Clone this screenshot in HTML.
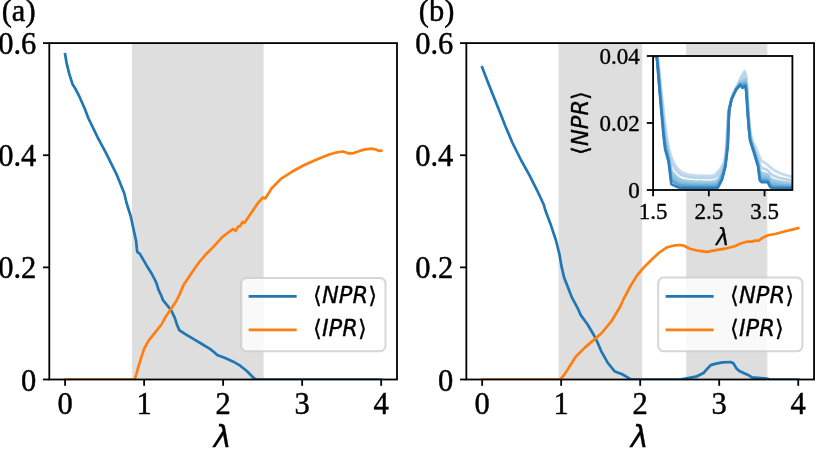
<!DOCTYPE html>
<html><head><meta charset="utf-8"><style>
html,body{margin:0;padding:0;background:#fff;}
svg{display:block;}
.tk{font-family:'Liberation Serif', serif;font-size:30.5px;fill:#000;stroke:#000;stroke-width:0.45px;}
.tki{font-family:'Liberation Serif', serif;font-size:23.0px;fill:#000;stroke:#000;stroke-width:0.35px;}
.lam{font-family:'DejaVu Sans', sans-serif;font-style:italic;font-size:30px;fill:#000;stroke:#000;stroke-width:0.3px;}
.lami{font-family:'DejaVu Sans', sans-serif;font-style:italic;font-size:22.5px;fill:#000;stroke:#000;stroke-width:0.25px;}
.lg{font-family:'DejaVu Sans', sans-serif;font-size:22.6px;fill:#000;stroke:#000;stroke-width:0.3px;}
.lgi{font-family:'DejaVu Sans', sans-serif;font-size:22.6px;fill:#000;stroke:#000;stroke-width:0.3px;}
</style></head><body>
<svg width="825" height="457" viewBox="0 0 825 457">
<rect width="825" height="457" fill="#fff"/>
<clipPath id="clipa"><rect x="49.3" y="43.1" width="347.7" height="336.4"/></clipPath>
<rect x="132.0" y="43.1" width="131.60000000000002" height="336.4" fill="#dedede"/>
<polyline points="65.1,54.3 66.6,63.1 69.2,73.6 72.5,84.1 75.7,89.3 79.7,97.2 84.9,109 88.5,118.5 97.5,137.2 106.3,153.6 116.1,173.3 119.1,180.6 124.4,193.8 126.4,202.5 130.8,216.5 133.4,228.8 136.1,241 136.9,249 137.3,252 139.9,253.9 146.4,265.2 151.9,274 156.3,282.7 158.5,289.8 161.3,295.8 163,300.1 170.9,309.8 174.4,316.8 177,324.7 179.3,330.1 184.5,333.6 195,339.8 202.7,344.5 210.3,349.1 214.2,352.2 217.2,354.9 225.7,358.3 233.3,361.7 240.2,365.7 247.1,371.3 253.2,377.5 256,379.5 381.2,379.5" fill="none" stroke="#1f77b4" stroke-width="2.7" stroke-linejoin="round" stroke-linecap="square" clip-path="url(#clipa)"/>
<polyline points="65.1,379.5 134.6,379.5 136.4,373.9 138.1,367.8 141.6,356.4 144.3,348.5 148.6,340.6 154.8,332.8 161.8,324 165.3,317.2 170.5,309.8 175.7,302 179.7,294.1 183.6,284.9 188.9,277 194.1,269.2 199.3,262 205,255.3 212.9,247.4 222.5,236.9 233,229 235.6,230.8 238.3,226.4 240,226.4 242.6,222 244.4,222.9 250.5,214.1 257.5,203.6 262.8,197.5 265.4,198.4 271.5,188.5 280.9,178.9 291.9,171.8 302.8,165.7 313.8,160.8 324.7,156.2 330,154.3 336.3,152.5 342.4,151.5 345.5,152.2 348.6,153.4 352.4,153.4 357.8,151.5 363.9,149.6 371.6,148.7 376.1,149.5 379.2,151 381.2,150.6" fill="none" stroke="#ff7f0e" stroke-width="2.7" stroke-linejoin="round" stroke-linecap="square" clip-path="url(#clipa)"/>
<rect x="49.3" y="43.1" width="347.7" height="336.4" fill="none" stroke="#000" stroke-width="1.8" stroke-linejoin="miter"/>
<line x1="65.10" y1="379.5" x2="65.10" y2="385.8" stroke="#000" stroke-width="1.8"/>
<text x="65.10" y="414.1" text-anchor="middle" class="tk">0</text>
<line x1="144.12" y1="379.5" x2="144.12" y2="385.8" stroke="#000" stroke-width="1.8"/>
<text x="144.12" y="414.1" text-anchor="middle" class="tk">1</text>
<line x1="223.14" y1="379.5" x2="223.14" y2="385.8" stroke="#000" stroke-width="1.8"/>
<text x="223.14" y="414.1" text-anchor="middle" class="tk">2</text>
<line x1="302.16" y1="379.5" x2="302.16" y2="385.8" stroke="#000" stroke-width="1.8"/>
<text x="302.16" y="414.1" text-anchor="middle" class="tk">3</text>
<line x1="381.18" y1="379.5" x2="381.18" y2="385.8" stroke="#000" stroke-width="1.8"/>
<text x="381.18" y="414.1" text-anchor="middle" class="tk">4</text>
<line x1="43.0" y1="379.50" x2="49.3" y2="379.50" stroke="#000" stroke-width="1.8"/>
<text x="36.30" y="390.50" text-anchor="end" class="tk">0</text>
<line x1="43.0" y1="267.37" x2="49.3" y2="267.37" stroke="#000" stroke-width="1.8"/>
<text x="36.30" y="278.37" text-anchor="end" class="tk">0.2</text>
<line x1="43.0" y1="155.23" x2="49.3" y2="155.23" stroke="#000" stroke-width="1.8"/>
<text x="36.30" y="166.23" text-anchor="end" class="tk">0.4</text>
<line x1="43.0" y1="43.10" x2="49.3" y2="43.10" stroke="#000" stroke-width="1.8"/>
<text x="36.30" y="54.10" text-anchor="end" class="tk">0.6</text>
<text x="222.55" y="446.5" text-anchor="middle" class="lam">λ</text>
<text x="1.6999999999999957" y="20.6" class="tk">(a)</text>
<rect x="241.2" y="277.9" width="144.3" height="73.30000000000001" rx="5.5" ry="5.5" fill="#fff" fill-opacity="0.8" stroke="#cccccc" stroke-opacity="0.8" stroke-width="2"/>
<line x1="250.0" y1="296.3" x2="295.3" y2="296.3" stroke="#1f77b4" stroke-width="2.7" stroke-linecap="square"/>
<line x1="250.0" y1="329.8" x2="295.3" y2="329.8" stroke="#ff7f0e" stroke-width="2.7" stroke-linecap="square"/>
<text x="313.1" y="303" class="lg">⟨<tspan font-style="italic">NPR</tspan>⟩</text>
<text x="313.1" y="336.3" class="lg">⟨<tspan font-style="italic">IPR</tspan>⟩</text>
<clipPath id="clipb"><rect x="466.35" y="43.1" width="347.69999999999993" height="336.4"/></clipPath>
<rect x="558.5" y="43.1" width="83.70000000000005" height="336.4" fill="#dedede"/>
<rect x="686.2" y="43.1" width="81.09999999999991" height="336.4" fill="#dedede"/>
<polyline points="482.15,67.2 487.5,81.3 494.5,98.8 501.5,116.3 505.3,125.9 512.3,142.5 521,160 529.8,175.8 536.8,189.8 543.8,204.7 545.5,210.8 550.8,224.8 556,240.5 559.5,254.5 561.4,265.9 564,277.3 568.4,288.6 571.9,297.4 578,308.8 580.6,314.9 587.6,324.5 593.8,335 597.1,341.5 601.7,352.2 607.8,362.9 614.7,371.3 618.6,372.9 621.8,374 627.1,377.2 631,379.5 680,379.5 696,376.7 704,372.7 707.3,368.7 710.7,365.1 716,363.6 722.7,362.4 730.7,362 733.3,363.3 736.7,368.7 739.3,370.9 748,374.9 752,377.3 766.7,378.6 770,379.5 798.2,379.5" fill="none" stroke="#1f77b4" stroke-width="2.7" stroke-linejoin="round" stroke-linecap="square" clip-path="url(#clipb)"/>
<polyline points="482.15,379.5 560.3,379.5 563.4,375.9 568,369 575.7,356.8 584.8,347.6 595.6,338.4 601.7,333 611.7,320.8 620,307 623.3,299.7 630.5,286 637.1,275.4 643.6,267.6 651.5,259.7 659.4,252.5 667.3,247.2 675.1,245.3 680,245 683.9,245.7 690,248.7 697.7,250.7 706.9,251.8 717.3,249.9 726.7,248.3 734.7,246.3 740,243.7 746.7,241.7 752,241.7 754.7,240.6 758.7,240.6 762.7,237.7 768,235.3 776,233.7 785.3,231.3 793.3,229.4 798.2,228.1" fill="none" stroke="#ff7f0e" stroke-width="2.7" stroke-linejoin="round" stroke-linecap="square" clip-path="url(#clipb)"/>
<rect x="466.35" y="43.1" width="347.69999999999993" height="336.4" fill="none" stroke="#000" stroke-width="1.8" stroke-linejoin="miter"/>
<line x1="482.15" y1="379.5" x2="482.15" y2="385.8" stroke="#000" stroke-width="1.8"/>
<text x="482.15" y="414.1" text-anchor="middle" class="tk">0</text>
<line x1="561.17" y1="379.5" x2="561.17" y2="385.8" stroke="#000" stroke-width="1.8"/>
<text x="561.17" y="414.1" text-anchor="middle" class="tk">1</text>
<line x1="640.19" y1="379.5" x2="640.19" y2="385.8" stroke="#000" stroke-width="1.8"/>
<text x="640.19" y="414.1" text-anchor="middle" class="tk">2</text>
<line x1="719.21" y1="379.5" x2="719.21" y2="385.8" stroke="#000" stroke-width="1.8"/>
<text x="719.21" y="414.1" text-anchor="middle" class="tk">3</text>
<line x1="798.23" y1="379.5" x2="798.23" y2="385.8" stroke="#000" stroke-width="1.8"/>
<text x="798.23" y="414.1" text-anchor="middle" class="tk">4</text>
<line x1="460.05" y1="379.50" x2="466.35" y2="379.50" stroke="#000" stroke-width="1.8"/>
<text x="453.35" y="390.50" text-anchor="end" class="tk">0</text>
<line x1="460.05" y1="267.37" x2="466.35" y2="267.37" stroke="#000" stroke-width="1.8"/>
<text x="453.35" y="278.37" text-anchor="end" class="tk">0.2</text>
<line x1="460.05" y1="155.23" x2="466.35" y2="155.23" stroke="#000" stroke-width="1.8"/>
<text x="453.35" y="166.23" text-anchor="end" class="tk">0.4</text>
<line x1="460.05" y1="43.10" x2="466.35" y2="43.10" stroke="#000" stroke-width="1.8"/>
<text x="453.35" y="54.10" text-anchor="end" class="tk">0.6</text>
<text x="639.60" y="446.5" text-anchor="middle" class="lam">λ</text>
<text x="418.75" y="20.6" class="tk">(b)</text>
<rect x="658.2" y="277.6" width="144.19999999999993" height="73.69999999999999" rx="5.5" ry="5.5" fill="#fff" fill-opacity="0.8" stroke="#cccccc" stroke-opacity="0.8" stroke-width="2"/>
<line x1="667.0" y1="296.3" x2="712.3000000000001" y2="296.3" stroke="#1f77b4" stroke-width="2.7" stroke-linecap="square"/>
<line x1="667.0" y1="329.8" x2="712.3000000000001" y2="329.8" stroke="#ff7f0e" stroke-width="2.7" stroke-linecap="square"/>
<text x="730.1" y="303" class="lg">⟨<tspan font-style="italic">NPR</tspan>⟩</text>
<text x="730.1" y="336.3" class="lg">⟨<tspan font-style="italic">IPR</tspan>⟩</text>
<clipPath id="clipi"><rect x="653.1" y="56.0" width="139.29999999999995" height="134.0"/></clipPath>
<rect x="652.1" y="54.8" width="141.29999999999995" height="136.4" fill="#fff"/>
<polyline points="657.8,56.5 661.8,95.5 666.5,135.5 669.2,149.5 671.5,157.5 674.7,164.4 678.0,169.0 682.1,172.5 688.0,174.5 695.0,175.4 705.0,175.8 711.5,175.8 714.5,175.0 716.4,173.5 720.0,169.5 723.0,164.5 724.6,160.5 726.0,150.5 726.8,140.5 727.3,125.5 728.3,110.5 731.0,101.0 733.4,93.1 737.4,85.2 740.5,78.0 744.6,70.8 746.3,76.5 747.2,85.5 748.3,110.5 749.5,125.5 751.0,135.5 752.5,140.5 756.0,148.5 761.5,161.0 767.2,164.4 772.3,169.0 779.2,173.0 792.4,177.1" fill="none" stroke="#c6dbef" stroke-width="2.7" stroke-linejoin="round" stroke-linecap="square" clip-path="url(#clipi)"/>
<polyline points="653.00,56.50 653.25,56.50 653.50,56.50 653.75,56.50 654.00,56.50 654.25,56.50 654.50,56.50 654.75,56.50 655.00,56.50 655.25,56.50 655.50,56.50 655.75,56.50 656.00,56.50 656.25,56.50 656.50,56.50 656.75,56.50 657.00,56.94 657.25,57.49 657.50,58.04 657.75,58.58 658.00,60.73 658.25,63.28 658.50,65.83 658.75,68.37 659.00,70.92 659.25,73.47 659.50,76.01 659.75,78.56 660.00,81.11 660.25,83.62 660.50,86.14 660.75,88.65 661.00,91.16 661.25,93.67 661.50,96.19 661.75,98.70 662.00,101.01 662.25,103.27 662.50,105.53 662.75,107.79 663.00,110.05 663.25,112.30 663.50,114.56 663.75,116.68 664.00,118.79 664.25,120.91 664.50,123.02 664.75,125.14 665.00,127.26 665.25,129.33 665.50,131.24 665.75,133.14 666.00,135.05 666.25,136.95 666.50,138.86 666.75,140.08 667.00,141.31 667.25,142.53 667.50,143.76 667.75,144.98 668.00,146.21 668.25,147.43 668.50,148.66 668.75,150.01 669.00,151.44 669.25,152.81 669.50,153.90 669.75,154.98 670.00,156.07 670.25,157.15 670.50,158.24 670.75,159.33 671.00,160.41 671.25,161.50 671.50,162.31 671.75,162.77 672.00,163.24 672.25,163.70 672.50,164.16 672.75,164.63 673.00,165.09 673.25,165.56 673.50,166.02 673.75,166.49 674.00,166.95 674.25,167.42 674.50,167.88 674.75,168.31 675.00,168.62 675.25,168.93 675.50,169.23 675.75,169.54 676.00,169.84 676.25,170.14 676.50,170.44 676.75,170.75 677.00,171.05 677.25,171.35 677.50,171.65 677.75,171.96 678.00,172.26 678.25,172.45 678.50,172.64 678.75,172.84 679.00,173.03 679.25,173.22 679.50,173.41 679.75,173.60 680.00,173.80 680.25,173.98 680.50,174.15 680.75,174.33 681.00,174.50 681.25,174.68 681.50,174.85 681.75,175.03 682.00,175.20 682.25,175.32 682.50,175.39 682.75,175.46 683.00,175.53 683.25,175.59 683.50,175.66 683.75,175.73 684.00,175.80 684.25,175.87 684.50,175.94 684.75,176.01 685.00,176.08 685.25,176.15 685.50,176.22 685.75,176.29 686.00,176.36 686.25,176.43 686.50,176.50 686.75,176.57 687.00,176.64 687.25,176.71 687.50,176.78 687.75,176.85 688.00,176.92 688.25,176.95 688.50,176.97 688.75,177.00 689.00,177.03 689.25,177.05 689.50,177.08 689.75,177.11 690.00,177.13 690.25,177.16 690.50,177.19 690.75,177.21 691.00,177.24 691.25,177.27 691.50,177.29 691.75,177.32 692.00,177.35 692.25,177.37 692.50,177.40 692.75,177.43 693.00,177.45 693.25,177.48 693.50,177.51 693.75,177.53 694.00,177.56 694.25,177.59 694.50,177.61 694.75,177.64 695.00,177.67 695.25,177.67 695.50,177.68 695.75,177.69 696.00,177.70 696.25,177.71 696.50,177.72 696.75,177.72 697.00,177.73 697.25,177.74 697.50,177.75 697.75,177.76 698.00,177.77 698.25,177.78 698.50,177.78 698.75,177.79 699.00,177.80 699.25,177.81 699.50,177.82 699.75,177.83 700.00,177.83 700.25,177.84 700.50,177.85 700.75,177.86 701.00,177.87 701.25,177.88 701.50,177.89 701.75,177.89 702.00,177.90 702.25,177.91 702.50,177.92 702.75,177.93 703.00,177.94 703.25,177.94 703.50,177.95 703.75,177.96 704.00,177.97 704.25,177.98 704.50,177.99 704.75,178.00 705.00,178.00 705.25,178.00 705.50,178.00 705.75,178.00 706.00,178.00 706.25,178.00 706.50,178.01 706.75,178.01 707.00,178.01 707.25,178.01 707.50,178.01 707.75,178.01 708.00,178.01 708.25,178.01 708.50,178.01 708.75,178.01 709.00,178.01 709.25,178.01 709.50,178.01 709.75,178.01 710.00,178.01 710.25,178.01 710.50,178.01 710.75,178.01 711.00,178.01 711.25,178.01 711.50,178.01 711.75,177.96 712.00,177.90 712.25,177.85 712.50,177.79 712.75,177.74 713.00,177.68 713.25,177.63 713.50,177.58 713.75,177.52 714.00,177.47 714.25,177.41 714.50,177.36 714.75,177.20 715.00,177.03 715.25,176.86 715.50,176.69 715.75,176.52 716.00,176.35 716.25,176.18 716.50,175.98 716.75,175.75 717.00,175.51 717.25,175.27 717.50,175.04 717.75,174.80 718.00,174.56 718.25,174.25 718.50,173.93 718.75,173.62 719.00,173.30 719.25,172.98 719.50,172.67 719.75,172.35 720.00,172.04 720.25,171.61 720.50,171.18 720.75,170.75 721.00,170.32 721.25,169.89 721.50,169.46 721.75,169.03 722.00,168.60 722.25,168.12 722.50,167.60 722.75,167.08 723.00,166.56 723.25,165.87 723.50,165.17 723.75,164.48 724.00,163.79 724.25,163.10 724.50,162.41 724.75,161.15 725.00,159.50 725.25,157.86 725.50,156.14 725.75,154.29 726.00,152.44 726.25,149.50 726.50,146.55 726.75,143.60 727.00,137.79 727.25,131.25 727.50,127.18 727.75,123.72 728.00,119.75 728.25,115.00 728.50,112.60 728.75,110.80 729.00,109.00 729.25,107.71 729.50,106.77 729.75,105.82 730.00,104.88 730.25,103.93 730.50,102.98 730.75,102.04 731.00,101.09 731.25,100.19 731.50,99.34 731.75,98.57 732.00,97.80 732.25,97.03 732.50,96.26 732.75,95.49 733.00,94.73 733.25,93.96 733.50,93.30 733.75,92.80 734.00,92.30 734.25,91.81 734.50,91.31 734.75,90.82 735.00,90.32 735.25,89.82 735.50,89.33 735.75,88.83 736.00,88.33 736.25,87.84 736.50,87.34 736.75,86.89 737.00,86.44 737.25,85.99 737.50,85.51 737.75,84.99 738.00,84.47 738.25,83.95 738.50,83.43 738.75,82.91 739.00,82.39 739.25,81.87 739.50,81.34 739.75,80.82 740.00,80.30 740.25,79.78 740.50,79.26 740.75,78.96 741.00,78.67 741.25,78.37 741.50,78.07 741.75,77.78 742.00,77.48 742.25,77.18 742.50,76.88 742.75,76.49 743.00,76.10 743.25,75.71 743.50,75.32 743.75,74.93 744.00,74.54 744.25,74.15 744.50,73.76 744.75,74.00 745.00,74.66 745.25,75.32 745.50,75.97 745.75,77.04 746.00,78.10 746.25,79.17 746.50,81.58 746.75,84.32 747.00,87.06 747.25,90.33 747.50,95.68 747.75,100.92 748.00,106.15 748.25,111.39 748.50,114.94 748.75,118.08 749.00,121.22 749.25,124.20 749.50,127.19 749.75,128.98 750.00,130.76 750.25,132.42 750.50,133.96 750.75,135.49 751.00,137.02 751.25,137.87 751.50,138.72 751.75,139.57 752.00,140.41 752.25,141.26 752.50,142.11 752.75,142.76 753.00,143.40 753.25,144.05 753.50,144.70 753.75,145.34 754.00,146.00 754.25,146.66 754.50,147.33 754.75,148.01 755.00,148.68 755.25,149.36 755.50,150.04 755.75,150.72 756.00,151.41 756.25,152.09 756.50,152.78 756.75,153.46 757.00,154.15 757.25,154.84 757.50,155.54 757.75,156.23 758.00,156.93 758.25,157.84 758.50,158.89 758.75,159.95 759.00,161.02 759.25,162.10 759.50,163.19 759.75,164.29 760.00,164.95 760.25,165.42 760.50,165.89 760.75,166.35 761.00,166.82 761.25,167.29 761.50,167.75 761.75,167.85 762.00,167.95 762.25,168.06 762.50,168.16 762.75,168.26 763.00,168.36 763.25,168.46 763.50,168.56 763.75,168.66 764.00,168.77 764.25,168.87 764.50,168.97 764.75,169.07 765.00,169.17 765.25,169.27 765.50,169.37 765.75,169.48 766.00,169.58 766.25,169.68 766.50,169.78 766.75,169.88 767.00,169.98 767.25,170.09 767.50,170.25 767.75,170.40 768.00,170.69 768.25,171.01 768.50,171.33 768.75,171.65 769.00,171.97 769.25,172.29 769.50,172.61 769.75,172.93 770.00,173.25 770.25,173.50 770.50,173.69 770.75,173.89 771.00,174.09 771.25,174.28 771.50,174.48 771.75,174.68 772.00,174.88 772.25,175.07 772.50,175.19 772.75,175.29 773.00,175.39 773.25,175.49 773.50,175.59 773.75,175.68 774.00,175.78 774.25,175.88 774.50,175.98 774.75,176.08 775.00,176.18 775.25,176.27 775.50,176.37 775.75,176.47 776.00,176.57 776.25,176.67 776.50,176.77 776.75,176.87 777.00,176.96 777.25,177.06 777.50,177.16 777.75,177.26 778.00,177.36 778.25,177.46 778.50,177.56 778.75,177.65 779.00,177.75 779.25,177.84 779.50,177.90 779.75,177.95 780.00,178.00 780.25,178.05 780.50,178.11 780.75,178.16 781.00,178.21 781.25,178.26 781.50,178.32 781.75,178.37 782.00,178.42 782.25,178.48 782.50,178.53 782.75,178.58 783.00,178.63 783.25,178.69 783.50,178.74 783.75,178.79 784.00,178.85 784.25,178.90 784.50,178.95 784.75,179.00 785.00,179.06 785.25,179.11 785.50,179.16 785.75,179.22 786.00,179.27 786.25,179.32 786.50,179.37 786.75,179.43 787.00,179.48 787.25,179.53 787.50,179.59 787.75,179.64 788.00,179.69 788.25,179.74 788.50,179.80 788.75,179.85 789.00,179.90 789.25,179.95 789.50,180.01 789.75,180.06 790.00,180.11 790.25,180.17 790.50,180.22 790.75,180.27 791.00,180.32 791.25,180.38 791.50,180.43 791.75,180.48 792.00,180.54 792.25,180.59 792.50,180.62 792.75,180.62 793.00,180.62" fill="none" stroke="#b7d4ea" stroke-width="2.7" stroke-linejoin="round" stroke-linecap="square" clip-path="url(#clipi)"/>
<polyline points="653.00,56.50 653.25,56.50 653.50,56.50 653.75,56.50 654.00,56.50 654.25,56.50 654.50,56.50 654.75,56.50 655.00,56.50 655.25,56.50 655.50,56.50 655.75,56.50 656.00,56.50 656.25,56.50 656.50,56.50 656.75,56.50 657.00,57.69 657.25,59.19 657.50,60.68 657.75,62.17 658.00,64.66 658.25,67.40 658.50,70.13 658.75,72.87 659.00,75.61 659.25,78.34 659.50,81.08 659.75,83.81 660.00,86.55 660.25,89.19 660.50,91.84 660.75,94.48 661.00,97.12 661.25,99.77 661.50,102.41 661.75,105.05 662.00,107.57 662.25,110.05 662.50,112.54 662.75,115.02 663.00,117.51 663.25,119.99 663.50,122.48 663.75,124.57 664.00,126.67 664.25,128.76 664.50,130.85 664.75,132.95 665.00,135.04 665.25,137.02 665.50,138.55 665.75,140.07 666.00,141.60 666.25,143.12 666.50,144.65 666.75,145.75 667.00,146.85 667.25,147.95 667.50,149.05 667.75,150.15 668.00,151.25 668.25,152.35 668.50,153.45 668.75,154.90 669.00,156.58 669.25,158.21 669.50,159.67 669.75,161.13 670.00,162.59 670.25,164.05 670.50,165.51 670.75,166.97 671.00,168.43 671.25,169.89 671.50,170.58 671.75,170.92 672.00,171.26 672.25,171.59 672.50,171.93 672.75,172.26 673.00,172.60 673.25,172.94 673.50,173.27 673.75,173.61 674.00,173.94 674.25,174.28 674.50,174.62 674.75,174.93 675.00,175.17 675.25,175.41 675.50,175.64 675.75,175.86 676.00,176.09 676.25,176.31 676.50,176.53 676.75,176.76 677.00,176.98 677.25,177.20 677.50,177.43 677.75,177.65 678.00,177.88 678.25,178.03 678.50,178.18 678.75,178.34 679.00,178.49 679.25,178.65 679.50,178.80 679.75,178.96 680.00,179.11 680.25,179.24 680.50,179.35 680.75,179.46 681.00,179.57 681.25,179.68 681.50,179.79 681.75,179.90 682.00,180.01 682.25,180.08 682.50,180.12 682.75,180.17 683.00,180.21 683.25,180.25 683.50,180.30 683.75,180.34 684.00,180.39 684.25,180.43 684.50,180.47 684.75,180.52 685.00,180.56 685.25,180.61 685.50,180.65 685.75,180.69 686.00,180.74 686.25,180.78 686.50,180.82 686.75,180.87 687.00,180.91 687.25,180.96 687.50,181.00 687.75,181.04 688.00,181.09 688.25,181.11 688.50,181.12 688.75,181.14 689.00,181.16 689.25,181.17 689.50,181.19 689.75,181.21 690.00,181.22 690.25,181.24 690.50,181.26 690.75,181.28 691.00,181.29 691.25,181.31 691.50,181.33 691.75,181.34 692.00,181.36 692.25,181.38 692.50,181.40 692.75,181.41 693.00,181.43 693.25,181.45 693.50,181.46 693.75,181.48 694.00,181.50 694.25,181.52 694.50,181.53 694.75,181.55 695.00,181.57 695.25,181.57 695.50,181.58 695.75,181.58 696.00,181.59 696.25,181.60 696.50,181.60 696.75,181.61 697.00,181.61 697.25,181.62 697.50,181.62 697.75,181.63 698.00,181.64 698.25,181.64 698.50,181.65 698.75,181.65 699.00,181.66 699.25,181.67 699.50,181.67 699.75,181.68 700.00,181.68 700.25,181.69 700.50,181.69 700.75,181.70 701.00,181.71 701.25,181.71 701.50,181.72 701.75,181.72 702.00,181.73 702.25,181.74 702.50,181.74 702.75,181.75 703.00,181.75 703.25,181.76 703.50,181.76 703.75,181.77 704.00,181.78 704.25,181.78 704.50,181.79 704.75,181.79 705.00,181.80 705.25,181.80 705.50,181.80 705.75,181.80 706.00,181.80 706.25,181.80 706.50,181.80 706.75,181.80 707.00,181.80 707.25,181.81 707.50,181.81 707.75,181.81 708.00,181.81 708.25,181.81 708.50,181.81 708.75,181.81 709.00,181.81 709.25,181.81 709.50,181.81 709.75,181.81 710.00,181.81 710.25,181.81 710.50,181.81 710.75,181.82 711.00,181.82 711.25,181.82 711.50,181.82 711.75,181.78 712.00,181.75 712.25,181.72 712.50,181.68 712.75,181.65 713.00,181.62 713.25,181.58 713.50,181.55 713.75,181.52 714.00,181.48 714.25,181.45 714.50,181.42 714.75,181.32 715.00,181.22 715.25,181.09 715.50,180.97 715.75,180.84 716.00,180.72 716.25,180.59 716.50,180.45 716.75,180.28 717.00,180.12 717.25,179.95 717.50,179.79 717.75,179.62 718.00,179.45 718.25,179.07 718.50,178.69 718.75,178.31 719.00,177.93 719.25,177.55 719.50,177.17 719.75,176.79 720.00,176.41 720.25,175.96 720.50,175.50 720.75,175.05 721.00,174.60 721.25,174.15 721.50,173.70 721.75,173.25 722.00,172.80 722.25,172.20 722.50,171.50 722.75,170.80 723.00,170.10 723.25,169.29 723.50,168.49 723.75,167.68 724.00,166.88 724.25,166.07 724.50,165.27 724.75,164.11 725.00,162.71 725.25,161.31 725.50,159.69 725.75,157.74 726.00,155.79 726.25,153.15 726.50,150.51 726.75,147.87 727.00,143.45 727.25,138.58 727.50,135.24 727.75,132.29 728.00,127.92 728.25,121.45 728.50,117.44 728.75,114.05 729.00,110.66 729.25,108.67 729.50,107.61 729.75,106.55 730.00,105.49 730.25,104.43 730.50,103.37 730.75,102.31 731.00,101.24 731.25,100.21 731.50,99.32 731.75,98.64 732.00,97.97 732.25,97.29 732.50,96.61 732.75,95.93 733.00,95.26 733.25,94.58 733.50,93.98 733.75,93.48 734.00,92.97 734.25,92.47 734.50,91.97 734.75,91.47 735.00,90.97 735.25,90.47 735.50,89.97 735.75,89.47 736.00,88.97 736.25,88.47 736.50,87.97 736.75,87.59 737.00,87.22 737.25,86.85 737.50,86.45 737.75,86.03 738.00,85.62 738.25,85.20 738.50,84.78 738.75,84.36 739.00,83.94 739.25,83.52 739.50,83.10 739.75,82.69 740.00,82.27 740.25,81.85 740.50,81.43 740.75,81.38 741.00,81.33 741.25,81.27 741.50,81.22 741.75,81.17 742.00,81.12 742.25,81.06 742.50,81.01 742.75,80.71 743.00,80.40 743.25,80.09 743.50,79.79 743.75,79.48 744.00,79.18 744.25,78.87 744.50,78.57 744.75,78.65 745.00,79.00 745.25,79.34 745.50,79.69 745.75,81.14 746.00,82.60 746.25,84.05 746.50,86.87 746.75,90.03 747.00,93.20 747.25,96.69 747.50,101.47 747.75,105.94 748.00,110.40 748.25,114.87 748.50,118.29 748.75,121.45 749.00,124.62 749.25,127.36 749.50,130.10 749.75,132.09 750.00,134.09 750.25,135.65 750.50,136.90 750.75,138.14 751.00,139.38 751.25,140.20 751.50,141.02 751.75,141.85 752.00,142.67 752.25,143.49 752.50,144.31 752.75,145.00 753.00,145.69 753.25,146.38 753.50,147.08 753.75,147.77 754.00,148.47 754.25,149.18 754.50,149.92 754.75,150.66 755.00,151.40 755.25,152.13 755.50,152.87 755.75,153.61 756.00,154.36 756.25,155.10 756.50,155.84 756.75,156.58 757.00,157.33 757.25,158.07 757.50,158.82 757.75,159.57 758.00,160.31 758.25,161.44 758.50,162.83 758.75,164.23 759.00,165.62 759.25,167.03 759.50,168.43 759.75,169.85 760.00,170.48 760.25,170.87 760.50,171.26 760.75,171.65 761.00,172.04 761.25,172.43 761.50,172.82 761.75,172.88 762.00,172.95 762.25,173.01 762.50,173.08 762.75,173.14 763.00,173.21 763.25,173.28 763.50,173.34 763.75,173.41 764.00,173.47 764.25,173.54 764.50,173.60 764.75,173.67 765.00,173.73 765.25,173.80 765.50,173.87 765.75,173.93 766.00,174.00 766.25,174.06 766.50,174.13 766.75,174.19 767.00,174.26 767.25,174.33 767.50,174.43 767.75,174.53 768.00,174.86 768.25,175.25 768.50,175.65 768.75,176.04 769.00,176.43 769.25,176.82 769.50,177.21 769.75,177.60 770.00,177.99 770.25,178.26 770.50,178.43 770.75,178.61 771.00,178.78 771.25,178.96 771.50,179.13 771.75,179.31 772.00,179.49 772.25,179.66 772.50,179.75 772.75,179.81 773.00,179.87 773.25,179.94 773.50,180.00 773.75,180.07 774.00,180.13 774.25,180.19 774.50,180.26 774.75,180.32 775.00,180.38 775.25,180.45 775.50,180.51 775.75,180.58 776.00,180.64 776.25,180.70 776.50,180.77 776.75,180.83 777.00,180.89 777.25,180.96 777.50,181.02 777.75,181.09 778.00,181.15 778.25,181.21 778.50,181.28 778.75,181.34 779.00,181.40 779.25,181.46 779.50,181.50 779.75,181.53 780.00,181.57 780.25,181.60 780.50,181.63 780.75,181.67 781.00,181.70 781.25,181.74 781.50,181.77 781.75,181.80 782.00,181.84 782.25,181.87 782.50,181.91 782.75,181.94 783.00,181.98 783.25,182.01 783.50,182.04 783.75,182.08 784.00,182.11 784.25,182.15 784.50,182.18 784.75,182.21 785.00,182.25 785.25,182.28 785.50,182.32 785.75,182.35 786.00,182.39 786.25,182.42 786.50,182.45 786.75,182.49 787.00,182.52 787.25,182.56 787.50,182.59 787.75,182.62 788.00,182.66 788.25,182.69 788.50,182.73 788.75,182.76 789.00,182.80 789.25,182.83 789.50,182.86 789.75,182.90 790.00,182.93 790.25,182.97 790.50,183.00 790.75,183.03 791.00,183.07 791.25,183.10 791.50,183.14 791.75,183.17 792.00,183.21 792.25,183.24 792.50,183.26 792.75,183.26 793.00,183.26" fill="none" stroke="#a6cee4" stroke-width="2.7" stroke-linejoin="round" stroke-linecap="square" clip-path="url(#clipi)"/>
<polyline points="653.00,56.50 653.25,56.50 653.50,56.50 653.75,56.50 654.00,56.50 654.25,56.50 654.50,56.50 654.75,56.50 655.00,56.50 655.25,56.50 655.50,56.50 655.75,56.50 656.00,56.50 656.25,56.50 656.50,56.50 656.75,56.50 657.00,57.99 657.25,59.85 657.50,61.70 657.75,63.56 658.00,66.18 658.25,68.99 658.50,71.80 658.75,74.61 659.00,77.42 659.25,80.23 659.50,83.04 659.75,85.85 660.00,88.66 660.25,91.35 660.50,94.04 660.75,96.74 661.00,99.43 661.25,102.12 661.50,104.82 661.75,107.51 662.00,110.11 662.25,112.68 662.50,115.25 662.75,117.82 663.00,120.40 663.25,122.97 663.50,125.54 663.75,127.63 664.00,129.71 664.25,131.80 664.50,133.89 664.75,135.97 665.00,138.06 665.25,140.00 665.50,141.38 665.75,142.75 666.00,144.13 666.25,145.51 666.50,146.89 666.75,147.94 667.00,148.99 667.25,150.04 667.50,151.10 667.75,152.15 668.00,153.20 668.25,154.25 668.50,155.31 668.75,156.79 669.00,158.56 669.25,160.30 669.50,161.90 669.75,163.51 670.00,165.11 670.25,166.72 670.50,168.32 670.75,169.93 671.00,171.53 671.25,173.13 671.50,173.79 671.75,174.07 672.00,174.36 672.25,174.65 672.50,174.93 672.75,175.22 673.00,175.51 673.25,175.79 673.50,176.08 673.75,176.37 674.00,176.65 674.25,176.94 674.50,177.22 674.75,177.50 675.00,177.71 675.25,177.92 675.50,178.12 675.75,178.31 676.00,178.50 676.25,178.70 676.50,178.89 676.75,179.08 677.00,179.28 677.25,179.47 677.50,179.66 677.75,179.86 678.00,180.05 678.25,180.19 678.50,180.33 678.75,180.47 679.00,180.61 679.25,180.75 679.50,180.89 679.75,181.03 680.00,181.17 680.25,181.28 680.50,181.36 680.75,181.45 681.00,181.53 681.25,181.62 681.50,181.70 681.75,181.78 682.00,181.87 682.25,181.92 682.50,181.96 682.75,181.99 683.00,182.02 683.25,182.06 683.50,182.09 683.75,182.12 684.00,182.16 684.25,182.19 684.50,182.23 684.75,182.26 685.00,182.29 685.25,182.33 685.50,182.36 685.75,182.40 686.00,182.43 686.25,182.46 686.50,182.50 686.75,182.53 687.00,182.57 687.25,182.60 687.50,182.63 687.75,182.67 688.00,182.70 688.25,182.72 688.50,182.73 688.75,182.74 689.00,182.76 689.25,182.77 689.50,182.78 689.75,182.80 690.00,182.81 690.25,182.82 690.50,182.84 690.75,182.85 691.00,182.86 691.25,182.88 691.50,182.89 691.75,182.90 692.00,182.92 692.25,182.93 692.50,182.94 692.75,182.96 693.00,182.97 693.25,182.98 693.50,183.00 693.75,183.01 694.00,183.02 694.25,183.04 694.50,183.05 694.75,183.06 695.00,183.08 695.25,183.08 695.50,183.09 695.75,183.09 696.00,183.10 696.25,183.10 696.50,183.11 696.75,183.11 697.00,183.12 697.25,183.12 697.50,183.12 697.75,183.13 698.00,183.13 698.25,183.14 698.50,183.14 698.75,183.15 699.00,183.15 699.25,183.16 699.50,183.16 699.75,183.17 700.00,183.17 700.25,183.18 700.50,183.18 700.75,183.19 701.00,183.19 701.25,183.20 701.50,183.20 701.75,183.21 702.00,183.21 702.25,183.22 702.50,183.22 702.75,183.23 703.00,183.23 703.25,183.23 703.50,183.24 703.75,183.24 704.00,183.25 704.25,183.25 704.50,183.26 704.75,183.26 705.00,183.27 705.25,183.27 705.50,183.27 705.75,183.27 706.00,183.27 706.25,183.27 706.50,183.27 706.75,183.27 707.00,183.28 707.25,183.28 707.50,183.28 707.75,183.28 708.00,183.28 708.25,183.28 708.50,183.28 708.75,183.28 709.00,183.28 709.25,183.28 709.50,183.28 709.75,183.28 710.00,183.29 710.25,183.29 710.50,183.29 710.75,183.29 711.00,183.29 711.25,183.29 711.50,183.29 711.75,183.27 712.00,183.24 712.25,183.22 712.50,183.19 712.75,183.17 713.00,183.14 713.25,183.11 713.50,183.09 713.75,183.06 714.00,183.04 714.25,183.01 714.50,182.99 714.75,182.91 715.00,182.84 715.25,182.73 715.50,182.62 715.75,182.51 716.00,182.41 716.25,182.30 716.50,182.18 716.75,182.04 717.00,181.90 717.25,181.76 717.50,181.62 717.75,181.49 718.00,181.35 718.25,180.94 718.50,180.53 718.75,180.13 719.00,179.72 719.25,179.32 719.50,178.91 719.75,178.51 720.00,178.10 720.25,177.64 720.50,177.18 720.75,176.72 721.00,176.26 721.25,175.80 721.50,175.34 721.75,174.88 722.00,174.42 722.25,173.77 722.50,173.01 722.75,172.24 723.00,171.47 723.25,170.62 723.50,169.77 723.75,168.92 724.00,168.07 724.25,167.22 724.50,166.38 724.75,165.26 725.00,163.95 725.25,162.65 725.50,161.07 725.75,159.08 726.00,157.08 726.25,154.56 726.50,152.04 726.75,149.53 727.00,145.64 727.25,141.42 727.50,138.36 727.75,135.60 728.00,131.09 728.25,123.95 728.50,119.31 728.75,115.31 729.00,111.31 729.25,109.04 729.50,107.94 729.75,106.83 730.00,105.73 730.25,104.62 730.50,103.52 730.75,102.41 731.00,101.30 731.25,100.22 731.50,99.31 731.75,98.67 732.00,98.03 732.25,97.39 732.50,96.75 732.75,96.10 733.00,95.46 733.25,94.82 733.50,94.24 733.75,93.74 734.00,93.23 734.25,92.73 734.50,92.23 734.75,91.73 735.00,91.23 735.25,90.72 735.50,90.22 735.75,89.72 736.00,89.22 736.25,88.71 736.50,88.21 736.75,87.87 737.00,87.52 737.25,87.18 737.50,86.82 737.75,86.44 738.00,86.06 738.25,85.68 738.50,85.30 738.75,84.92 739.00,84.54 739.25,84.16 739.50,83.79 739.75,83.41 740.00,83.03 740.25,82.65 740.50,82.27 740.75,82.31 741.00,82.35 741.25,82.40 741.50,82.44 741.75,82.48 742.00,82.52 742.25,82.57 742.50,82.61 742.75,82.34 743.00,82.06 743.25,81.79 743.50,81.52 743.75,81.24 744.00,80.97 744.25,80.70 744.50,80.43 744.75,80.45 745.00,80.68 745.25,80.90 745.50,81.13 745.75,82.73 746.00,84.34 746.25,85.94 746.50,88.92 746.75,92.25 747.00,95.57 747.25,99.15 747.50,103.71 747.75,107.88 748.00,112.05 748.25,116.22 748.50,119.59 748.75,122.76 749.00,125.93 749.25,128.58 749.50,131.22 749.75,133.30 750.00,135.38 750.25,136.90 750.50,138.05 750.75,139.18 751.00,140.32 751.25,141.14 751.50,141.95 751.75,142.76 752.00,143.58 752.25,144.39 752.50,145.21 752.75,145.92 753.00,146.64 753.25,147.36 753.50,148.08 753.75,148.80 754.00,149.52 754.25,150.27 754.50,151.04 754.75,151.81 755.00,152.58 755.25,153.35 755.50,154.13 755.75,154.90 756.00,155.68 756.25,156.45 756.50,157.23 756.75,158.01 757.00,158.79 757.25,159.57 757.50,160.35 757.75,161.13 758.00,161.91 758.25,163.16 758.50,164.72 758.75,166.29 759.00,167.86 759.25,169.44 759.50,171.02 759.75,172.61 760.00,173.24 760.25,173.59 760.50,173.94 760.75,174.29 761.00,174.64 761.25,175.00 761.50,175.35 761.75,175.40 762.00,175.44 762.25,175.49 762.50,175.54 762.75,175.59 763.00,175.63 763.25,175.68 763.50,175.73 763.75,175.78 764.00,175.83 764.25,175.87 764.50,175.92 764.75,175.97 765.00,176.02 765.25,176.06 765.50,176.11 765.75,176.16 766.00,176.21 766.25,176.25 766.50,176.30 766.75,176.35 767.00,176.40 767.25,176.45 767.50,176.52 767.75,176.59 768.00,176.95 768.25,177.38 768.50,177.80 768.75,178.23 769.00,178.66 769.25,179.09 769.50,179.51 769.75,179.94 770.00,180.37 770.25,180.64 770.50,180.80 770.75,180.97 771.00,181.13 771.25,181.30 771.50,181.46 771.75,181.63 772.00,181.79 772.25,181.96 772.50,182.03 772.75,182.07 773.00,182.12 773.25,182.16 773.50,182.21 773.75,182.26 774.00,182.30 774.25,182.35 774.50,182.40 774.75,182.44 775.00,182.49 775.25,182.54 775.50,182.58 775.75,182.63 776.00,182.67 776.25,182.72 776.50,182.77 776.75,182.81 777.00,182.86 777.25,182.91 777.50,182.95 777.75,183.00 778.00,183.05 778.25,183.09 778.50,183.14 778.75,183.18 779.00,183.23 779.25,183.27 779.50,183.30 779.75,183.32 780.00,183.35 780.25,183.37 780.50,183.40 780.75,183.42 781.00,183.45 781.25,183.47 781.50,183.50 781.75,183.52 782.00,183.55 782.25,183.57 782.50,183.60 782.75,183.62 783.00,183.65 783.25,183.67 783.50,183.70 783.75,183.72 784.00,183.75 784.25,183.77 784.50,183.79 784.75,183.82 785.00,183.84 785.25,183.87 785.50,183.89 785.75,183.92 786.00,183.94 786.25,183.97 786.50,183.99 786.75,184.02 787.00,184.04 787.25,184.07 787.50,184.09 787.75,184.12 788.00,184.14 788.25,184.17 788.50,184.19 788.75,184.22 789.00,184.24 789.25,184.27 789.50,184.29 789.75,184.32 790.00,184.34 790.25,184.37 790.50,184.39 790.75,184.42 791.00,184.44 791.25,184.47 791.50,184.49 791.75,184.52 792.00,184.54 792.25,184.57 792.50,184.58 792.75,184.58 793.00,184.58" fill="none" stroke="#94c4df" stroke-width="2.7" stroke-linejoin="round" stroke-linecap="square" clip-path="url(#clipi)"/>
<polyline points="653.00,56.50 653.25,56.50 653.50,56.50 653.75,56.50 654.00,56.50 654.25,56.50 654.50,56.50 654.75,56.50 655.00,56.50 655.25,56.50 655.50,56.50 655.75,56.50 656.00,56.50 656.25,56.50 656.50,56.50 656.75,56.50 657.00,58.28 657.25,60.50 657.50,62.73 657.75,64.95 658.00,67.70 658.25,70.59 658.50,73.47 658.75,76.35 659.00,79.23 659.25,82.11 659.50,85.00 659.75,87.88 660.00,90.76 660.25,93.51 660.50,96.25 660.75,98.99 661.00,101.74 661.25,104.48 661.50,107.22 661.75,109.97 662.00,112.65 662.25,115.31 662.50,117.97 662.75,120.63 663.00,123.29 663.25,125.95 663.50,128.61 663.75,130.68 664.00,132.76 664.25,134.84 664.50,136.92 664.75,138.99 665.00,141.07 665.25,142.98 665.50,144.21 665.75,145.44 666.00,146.67 666.25,147.90 666.50,149.13 666.75,150.13 667.00,151.13 667.25,152.14 667.50,153.14 667.75,154.15 668.00,155.15 668.25,156.16 668.50,157.16 668.75,158.68 669.00,160.55 669.25,162.39 669.50,164.14 669.75,165.89 670.00,167.64 670.25,169.38 670.50,171.13 670.75,172.88 671.00,174.63 671.25,176.38 671.50,176.99 671.75,177.23 672.00,177.46 672.25,177.70 672.50,177.94 672.75,178.17 673.00,178.41 673.25,178.65 673.50,178.89 673.75,179.12 674.00,179.36 674.25,179.60 674.50,179.83 674.75,180.06 675.00,180.24 675.25,180.43 675.50,180.60 675.75,180.76 676.00,180.92 676.25,181.08 676.50,181.25 676.75,181.41 677.00,181.57 677.25,181.73 677.50,181.90 677.75,182.06 678.00,182.22 678.25,182.35 678.50,182.47 678.75,182.60 679.00,182.73 679.25,182.85 679.50,182.98 679.75,183.10 680.00,183.23 680.25,183.32 680.50,183.37 680.75,183.43 681.00,183.49 681.25,183.55 681.50,183.61 681.75,183.67 682.00,183.73 682.25,183.76 682.50,183.79 682.75,183.81 683.00,183.84 683.25,183.86 683.50,183.88 683.75,183.91 684.00,183.93 684.25,183.96 684.50,183.98 684.75,184.00 685.00,184.03 685.25,184.05 685.50,184.08 685.75,184.10 686.00,184.12 686.25,184.15 686.50,184.17 686.75,184.20 687.00,184.22 687.25,184.24 687.50,184.27 687.75,184.29 688.00,184.32 688.25,184.32 688.50,184.33 688.75,184.34 689.00,184.35 689.25,184.36 689.50,184.37 689.75,184.38 690.00,184.39 690.25,184.40 690.50,184.41 690.75,184.42 691.00,184.43 691.25,184.44 691.50,184.45 691.75,184.46 692.00,184.47 692.25,184.48 692.50,184.49 692.75,184.50 693.00,184.51 693.25,184.52 693.50,184.53 693.75,184.54 694.00,184.55 694.25,184.56 694.50,184.57 694.75,184.58 695.00,184.59 695.25,184.59 695.50,184.59 695.75,184.60 696.00,184.60 696.25,184.61 696.50,184.61 696.75,184.61 697.00,184.62 697.25,184.62 697.50,184.62 697.75,184.63 698.00,184.63 698.25,184.64 698.50,184.64 698.75,184.64 699.00,184.65 699.25,184.65 699.50,184.65 699.75,184.66 700.00,184.66 700.25,184.67 700.50,184.67 700.75,184.67 701.00,184.68 701.25,184.68 701.50,184.68 701.75,184.69 702.00,184.69 702.25,184.70 702.50,184.70 702.75,184.70 703.00,184.71 703.25,184.71 703.50,184.71 703.75,184.72 704.00,184.72 704.25,184.73 704.50,184.73 704.75,184.73 705.00,184.74 705.25,184.74 705.50,184.74 705.75,184.74 706.00,184.74 706.25,184.74 706.50,184.74 706.75,184.74 707.00,184.75 707.25,184.75 707.50,184.75 707.75,184.75 708.00,184.75 708.25,184.75 708.50,184.75 708.75,184.75 709.00,184.75 709.25,184.75 709.50,184.76 709.75,184.76 710.00,184.76 710.25,184.76 710.50,184.76 710.75,184.76 711.00,184.76 711.25,184.76 711.50,184.76 711.75,184.75 712.00,184.73 712.25,184.71 712.50,184.70 712.75,184.68 713.00,184.66 713.25,184.65 713.50,184.63 713.75,184.61 714.00,184.59 714.25,184.58 714.50,184.56 714.75,184.51 715.00,184.46 715.25,184.37 715.50,184.28 715.75,184.19 716.00,184.10 716.25,184.01 716.50,183.91 716.75,183.80 717.00,183.69 717.25,183.57 717.50,183.46 717.75,183.35 718.00,183.24 718.25,182.81 718.50,182.38 718.75,181.95 719.00,181.52 719.25,181.08 719.50,180.65 719.75,180.22 720.00,179.79 720.25,179.32 720.50,178.85 720.75,178.39 721.00,177.92 721.25,177.45 721.50,176.98 721.75,176.51 722.00,176.04 722.25,175.35 722.50,174.52 722.75,173.68 723.00,172.84 723.25,171.95 723.50,171.06 723.75,170.16 724.00,169.27 724.25,168.38 724.50,167.48 724.75,166.40 725.00,165.19 725.25,163.99 725.50,162.45 725.75,160.41 726.00,158.38 726.25,155.98 726.50,153.58 726.75,151.18 727.00,147.84 727.25,144.26 727.50,141.49 727.75,138.92 728.00,134.25 728.25,126.44 728.50,121.19 728.75,116.57 729.00,111.95 729.25,109.42 729.50,108.27 729.75,107.12 730.00,105.97 730.25,104.81 730.50,103.66 730.75,102.51 731.00,101.36 731.25,100.23 731.50,99.31 731.75,98.70 732.00,98.09 732.25,97.49 732.50,96.88 732.75,96.27 733.00,95.67 733.25,95.06 733.50,94.50 733.75,94.00 734.00,93.49 734.25,92.99 734.50,92.49 734.75,91.98 735.00,91.48 735.25,90.97 735.50,90.47 735.75,89.97 736.00,89.46 736.25,88.96 736.50,88.45 736.75,88.14 737.00,87.82 737.25,87.51 737.50,87.18 737.75,86.84 738.00,86.50 738.25,86.16 738.50,85.82 738.75,85.48 739.00,85.15 739.25,84.81 739.50,84.47 739.75,84.13 740.00,83.79 740.25,83.45 740.50,83.11 740.75,83.25 741.00,83.38 741.25,83.52 741.50,83.66 741.75,83.79 742.00,83.93 742.25,84.07 742.50,84.21 742.75,83.97 743.00,83.73 743.25,83.49 743.50,83.24 743.75,83.00 744.00,82.76 744.25,82.52 744.50,82.28 744.75,82.25 745.00,82.36 745.25,82.46 745.50,82.56 745.75,84.32 746.00,86.07 746.25,87.83 746.50,90.97 746.75,94.46 747.00,97.95 747.25,101.61 747.50,105.96 747.75,109.83 748.00,113.70 748.25,117.57 748.50,120.88 748.75,124.06 749.00,127.24 749.25,129.80 749.50,132.35 749.75,134.51 750.00,136.67 750.25,138.16 750.50,139.19 750.75,140.22 751.00,141.25 751.25,142.06 751.50,142.86 751.75,143.67 752.00,144.48 752.25,145.28 752.50,146.09 752.75,146.83 753.00,147.57 753.25,148.31 753.50,149.05 753.75,149.79 754.00,150.53 754.25,151.31 754.50,152.11 754.75,152.91 755.00,153.71 755.25,154.52 755.50,155.32 755.75,156.13 756.00,156.93 756.25,157.74 756.50,158.54 756.75,159.35 757.00,160.16 757.25,160.97 757.50,161.78 757.75,162.59 758.00,163.40 758.25,164.76 758.50,166.48 758.75,168.20 759.00,169.93 759.25,171.66 759.50,173.40 759.75,175.14 760.00,175.77 760.25,176.08 760.50,176.40 760.75,176.72 761.00,177.04 761.25,177.35 761.50,177.67 761.75,177.70 762.00,177.73 762.25,177.76 762.50,177.79 762.75,177.83 763.00,177.86 763.25,177.89 763.50,177.92 763.75,177.95 764.00,177.98 764.25,178.01 764.50,178.04 764.75,178.08 765.00,178.11 765.25,178.14 765.50,178.17 765.75,178.20 766.00,178.23 766.25,178.26 766.50,178.30 766.75,178.33 767.00,178.36 767.25,178.39 767.50,178.44 767.75,178.49 768.00,178.86 768.25,179.32 768.50,179.78 768.75,180.24 769.00,180.70 769.25,181.16 769.50,181.62 769.75,182.08 770.00,182.54 770.25,182.82 770.50,182.97 770.75,183.13 771.00,183.28 771.25,183.44 771.50,183.59 771.75,183.75 772.00,183.90 772.25,184.06 772.50,184.11 772.75,184.14 773.00,184.17 773.25,184.20 773.50,184.24 773.75,184.27 774.00,184.30 774.25,184.33 774.50,184.36 774.75,184.39 775.00,184.42 775.25,184.45 775.50,184.48 775.75,184.51 776.00,184.54 776.25,184.57 776.50,184.60 776.75,184.63 777.00,184.66 777.25,184.69 777.50,184.72 777.75,184.75 778.00,184.78 778.25,184.81 778.50,184.84 778.75,184.87 779.00,184.90 779.25,184.93 779.50,184.95 779.75,184.96 780.00,184.98 780.25,185.00 780.50,185.01 780.75,185.03 781.00,185.05 781.25,185.06 781.50,185.08 781.75,185.10 782.00,185.11 782.25,185.13 782.50,185.14 782.75,185.16 783.00,185.18 783.25,185.19 783.50,185.21 783.75,185.23 784.00,185.24 784.25,185.26 784.50,185.27 784.75,185.29 785.00,185.31 785.25,185.32 785.50,185.34 785.75,185.36 786.00,185.37 786.25,185.39 786.50,185.41 786.75,185.42 787.00,185.44 787.25,185.45 787.50,185.47 787.75,185.49 788.00,185.50 788.25,185.52 788.50,185.54 788.75,185.55 789.00,185.57 789.25,185.58 789.50,185.60 789.75,185.62 790.00,185.63 790.25,185.65 790.50,185.67 790.75,185.68 791.00,185.70 791.25,185.71 791.50,185.73 791.75,185.75 792.00,185.76 792.25,185.78 792.50,185.79 792.75,185.79 793.00,185.79" fill="none" stroke="#7fb9da" stroke-width="2.7" stroke-linejoin="round" stroke-linecap="square" clip-path="url(#clipi)"/>
<polyline points="653.00,56.50 653.25,56.50 653.50,56.50 653.75,56.50 654.00,56.50 654.25,56.50 654.50,56.50 654.75,56.50 655.00,56.50 655.25,56.50 655.50,56.50 655.75,56.50 656.00,56.50 656.25,56.50 656.50,56.50 656.75,56.50 657.00,58.57 657.25,61.16 657.50,63.75 657.75,66.34 658.00,69.22 658.25,72.18 658.50,75.13 658.75,78.09 659.00,81.05 659.25,84.00 659.50,86.96 659.75,89.91 660.00,92.87 660.25,95.66 660.50,98.46 660.75,101.25 661.00,104.04 661.25,106.84 661.50,109.63 661.75,112.43 662.00,115.18 662.25,117.93 662.50,120.68 662.75,123.43 663.00,126.17 663.25,128.92 663.50,131.67 663.75,133.74 664.00,135.81 664.25,137.88 664.50,139.95 664.75,142.02 665.00,144.09 665.25,145.96 665.50,147.04 665.75,148.12 666.00,149.20 666.25,150.28 666.50,151.36 666.75,152.32 667.00,153.28 667.25,154.24 667.50,155.19 667.75,156.15 668.00,157.11 668.25,158.06 668.50,159.02 668.75,160.58 669.00,162.54 669.25,164.48 669.50,166.37 669.75,168.27 670.00,170.16 670.25,172.05 670.50,173.95 670.75,175.84 671.00,177.73 671.25,179.63 671.50,180.20 671.75,180.38 672.00,180.57 672.25,180.76 672.50,180.94 672.75,181.13 673.00,181.32 673.25,181.50 673.50,181.69 673.75,181.88 674.00,182.07 674.25,182.25 674.50,182.44 674.75,182.62 675.00,182.78 675.25,182.94 675.50,183.08 675.75,183.21 676.00,183.34 676.25,183.47 676.50,183.60 676.75,183.74 677.00,183.87 677.25,184.00 677.50,184.13 677.75,184.26 678.00,184.40 678.25,184.51 678.50,184.62 678.75,184.73 679.00,184.84 679.25,184.95 679.50,185.07 679.75,185.18 680.00,185.29 680.25,185.35 680.50,185.39 680.75,185.42 681.00,185.45 681.25,185.49 681.50,185.52 681.75,185.55 682.00,185.59 682.25,185.61 682.50,185.62 682.75,185.64 683.00,185.65 683.25,185.66 683.50,185.68 683.75,185.69 684.00,185.71 684.25,185.72 684.50,185.73 684.75,185.75 685.00,185.76 685.25,185.78 685.50,185.79 685.75,185.80 686.00,185.82 686.25,185.83 686.50,185.84 686.75,185.86 687.00,185.87 687.25,185.89 687.50,185.90 687.75,185.91 688.00,185.93 688.25,185.93 688.50,185.94 688.75,185.95 689.00,185.95 689.25,185.96 689.50,185.96 689.75,185.97 690.00,185.98 690.25,185.98 690.50,185.99 690.75,185.99 691.00,186.00 691.25,186.01 691.50,186.01 691.75,186.02 692.00,186.03 692.25,186.03 692.50,186.04 692.75,186.04 693.00,186.05 693.25,186.06 693.50,186.06 693.75,186.07 694.00,186.07 694.25,186.08 694.50,186.09 694.75,186.09 695.00,186.10 695.25,186.10 695.50,186.10 695.75,186.11 696.00,186.11 696.25,186.11 696.50,186.11 696.75,186.12 697.00,186.12 697.25,186.12 697.50,186.12 697.75,186.13 698.00,186.13 698.25,186.13 698.50,186.14 698.75,186.14 699.00,186.14 699.25,186.14 699.50,186.15 699.75,186.15 700.00,186.15 700.25,186.15 700.50,186.16 700.75,186.16 701.00,186.16 701.25,186.17 701.50,186.17 701.75,186.17 702.00,186.17 702.25,186.18 702.50,186.18 702.75,186.18 703.00,186.18 703.25,186.19 703.50,186.19 703.75,186.19 704.00,186.20 704.25,186.20 704.50,186.20 704.75,186.20 705.00,186.21 705.25,186.21 705.50,186.21 705.75,186.21 706.00,186.21 706.25,186.21 706.50,186.21 706.75,186.21 707.00,186.22 707.25,186.22 707.50,186.22 707.75,186.22 708.00,186.22 708.25,186.22 708.50,186.22 708.75,186.22 709.00,186.23 709.25,186.23 709.50,186.23 709.75,186.23 710.00,186.23 710.25,186.23 710.50,186.23 710.75,186.23 711.00,186.24 711.25,186.24 711.50,186.24 711.75,186.23 712.00,186.22 712.25,186.21 712.50,186.20 712.75,186.19 713.00,186.19 713.25,186.18 713.50,186.17 713.75,186.16 714.00,186.15 714.25,186.14 714.50,186.13 714.75,186.10 715.00,186.08 715.25,186.00 715.50,185.93 715.75,185.86 716.00,185.79 716.25,185.72 716.50,185.64 716.75,185.55 717.00,185.47 717.25,185.39 717.50,185.30 717.75,185.22 718.00,185.13 718.25,184.68 718.50,184.22 718.75,183.76 719.00,183.31 719.25,182.85 719.50,182.40 719.75,181.94 720.00,181.48 720.25,181.01 720.50,180.53 720.75,180.05 721.00,179.57 721.25,179.10 721.50,178.62 721.75,178.14 722.00,177.67 722.25,176.93 722.50,176.03 722.75,175.12 723.00,174.21 723.25,173.28 723.50,172.34 723.75,171.40 724.00,170.46 724.25,169.53 724.50,168.59 724.75,167.55 725.00,166.44 725.25,165.32 725.50,163.83 725.75,161.75 726.00,159.67 726.25,157.39 726.50,155.11 726.75,152.83 727.00,150.03 727.25,147.09 727.50,144.61 727.75,142.23 728.00,137.42 728.25,128.94 728.50,123.06 728.75,117.83 729.00,112.60 729.25,109.79 729.50,108.59 729.75,107.40 730.00,106.20 730.25,105.01 730.50,103.81 730.75,102.62 731.00,101.42 731.25,100.24 731.50,99.30 731.75,98.73 732.00,98.16 732.25,97.59 732.50,97.02 732.75,96.45 733.00,95.87 733.25,95.30 733.50,94.77 733.75,94.26 734.00,93.75 734.25,93.25 734.50,92.74 734.75,92.24 735.00,91.73 735.25,91.23 735.50,90.72 735.75,90.21 736.00,89.71 736.25,89.20 736.50,88.70 736.75,88.41 737.00,88.12 737.25,87.84 737.50,87.55 737.75,87.25 738.00,86.95 738.25,86.65 738.50,86.35 738.75,86.05 739.00,85.75 739.25,85.45 739.50,85.15 739.75,84.85 740.00,84.55 740.25,84.25 740.50,83.95 740.75,84.18 741.00,84.41 741.25,84.64 741.50,84.88 741.75,85.11 742.00,85.34 742.25,85.57 742.50,85.80 742.75,85.60 743.00,85.39 743.25,85.18 743.50,84.97 743.75,84.77 744.00,84.56 744.25,84.35 744.50,84.14 744.75,84.05 745.00,84.03 745.25,84.02 745.50,84.00 745.75,85.91 746.00,87.81 746.25,89.72 746.50,93.02 746.75,96.67 747.00,100.32 747.25,104.07 747.50,108.20 747.75,111.77 748.00,115.34 748.25,118.91 748.50,122.18 748.75,125.37 749.00,128.56 749.25,131.02 749.50,133.47 749.75,135.71 750.00,137.95 750.25,139.41 750.50,140.34 750.75,141.26 751.00,142.18 751.25,142.98 751.50,143.78 751.75,144.57 752.00,145.37 752.25,146.17 752.50,146.97 752.75,147.73 753.00,148.49 753.25,149.26 753.50,150.02 753.75,150.78 754.00,151.55 754.25,152.35 754.50,153.18 754.75,154.02 755.00,154.85 755.25,155.68 755.50,156.52 755.75,157.35 756.00,158.19 756.25,159.02 756.50,159.86 756.75,160.70 757.00,161.53 757.25,162.37 757.50,163.21 757.75,164.05 758.00,164.89 758.25,166.35 758.50,168.23 758.75,170.11 759.00,172.00 759.25,173.88 759.50,175.78 759.75,177.67 760.00,178.30 760.25,178.58 760.50,178.86 760.75,179.14 761.00,179.43 761.25,179.71 761.50,179.99 761.75,180.00 762.00,180.02 762.25,180.03 762.50,180.05 762.75,180.06 763.00,180.08 763.25,180.09 763.50,180.11 763.75,180.12 764.00,180.14 764.25,180.15 764.50,180.17 764.75,180.18 765.00,180.20 765.25,180.21 765.50,180.23 765.75,180.24 766.00,180.26 766.25,180.27 766.50,180.29 766.75,180.30 767.00,180.32 767.25,180.33 767.50,180.36 767.75,180.38 768.00,180.78 768.25,181.27 768.50,181.76 768.75,182.25 769.00,182.75 769.25,183.24 769.50,183.73 769.75,184.22 770.00,184.71 770.25,185.00 770.50,185.14 770.75,185.29 771.00,185.43 771.25,185.58 771.50,185.73 771.75,185.87 772.00,186.02 772.25,186.16 772.50,186.20 772.75,186.22 773.00,186.23 773.25,186.25 773.50,186.26 773.75,186.27 774.00,186.29 774.25,186.30 774.50,186.32 774.75,186.33 775.00,186.35 775.25,186.36 775.50,186.38 775.75,186.39 776.00,186.40 776.25,186.42 776.50,186.43 776.75,186.45 777.00,186.46 777.25,186.48 777.50,186.49 777.75,186.51 778.00,186.52 778.25,186.53 778.50,186.55 778.75,186.56 779.00,186.58 779.25,186.59 779.50,186.60 779.75,186.61 780.00,186.61 780.25,186.62 780.50,186.63 780.75,186.64 781.00,186.65 781.25,186.65 781.50,186.66 781.75,186.67 782.00,186.68 782.25,186.68 782.50,186.69 782.75,186.70 783.00,186.71 783.25,186.72 783.50,186.72 783.75,186.73 784.00,186.74 784.25,186.75 784.50,186.75 784.75,186.76 785.00,186.77 785.25,186.78 785.50,186.79 785.75,186.79 786.00,186.80 786.25,186.81 786.50,186.82 786.75,186.82 787.00,186.83 787.25,186.84 787.50,186.85 787.75,186.86 788.00,186.86 788.25,186.87 788.50,186.88 788.75,186.89 789.00,186.89 789.25,186.90 789.50,186.91 789.75,186.92 790.00,186.93 790.25,186.93 790.50,186.94 790.75,186.95 791.00,186.96 791.25,186.96 791.50,186.97 791.75,186.98 792.00,186.99 792.25,187.00 792.50,187.00 792.75,187.00 793.00,187.00" fill="none" stroke="#5ba3d0" stroke-width="2.7" stroke-linejoin="round" stroke-linecap="square" clip-path="url(#clipi)"/>
<polyline points="656.8,56.5 660.0,95.5 663.5,135.5 665.2,149.5 668.6,161.7 671.3,184.1 675.3,186.1 680.1,187.9 715.0,188.1 718.0,187.5 722.1,179.5 725.4,166.4 727.9,145.1 728.3,130.2 729.1,111.0 731.4,99.5 733.3,95.5 736.5,89.0 740.5,85.0 742.5,87.8 745.5,85.8 746.3,92.5 747.5,111.0 749.0,130.2 750.1,140.5 754.1,153.0 758.1,166.7 759.8,180.4 761.5,182.1 767.8,182.1 770.1,186.9 772.3,188.1 792.4,188.1" fill="none" stroke="#2e7ebc" stroke-width="2.7" stroke-linejoin="round" stroke-linecap="square" clip-path="url(#clipi)"/>
<rect x="653.1" y="56.0" width="139.29999999999995" height="134.0" fill="none" stroke="#000" stroke-width="1.8"/>
<line x1="653.10" y1="190.0" x2="653.10" y2="196.3" stroke="#000" stroke-width="1.8"/>
<text x="653.10" y="219.2" text-anchor="middle" class="tki">1.5</text>
<line x1="708.82" y1="190.0" x2="708.82" y2="196.3" stroke="#000" stroke-width="1.8"/>
<text x="708.82" y="219.2" text-anchor="middle" class="tki">2.5</text>
<line x1="764.54" y1="190.0" x2="764.54" y2="196.3" stroke="#000" stroke-width="1.8"/>
<text x="764.54" y="219.2" text-anchor="middle" class="tki">3.5</text>
<line x1="646.8000000000001" y1="190.00" x2="653.1" y2="190.00" stroke="#000" stroke-width="1.8"/>
<text x="639.80" y="198.20" text-anchor="end" class="tki">0</text>
<line x1="646.8000000000001" y1="123.00" x2="653.1" y2="123.00" stroke="#000" stroke-width="1.8"/>
<text x="639.80" y="131.20" text-anchor="end" class="tki">0.02</text>
<line x1="646.8000000000001" y1="56.00" x2="653.1" y2="56.00" stroke="#000" stroke-width="1.8"/>
<text x="639.80" y="64.20" text-anchor="end" class="tki">0.04</text>
<text x="722.75" y="245.3" text-anchor="middle" class="lami">λ</text>
<text transform="translate(587.5,123) rotate(-90)" text-anchor="middle" class="lgi">⟨<tspan font-style="italic">NPR</tspan>⟩</text>
</svg>
</body></html>
